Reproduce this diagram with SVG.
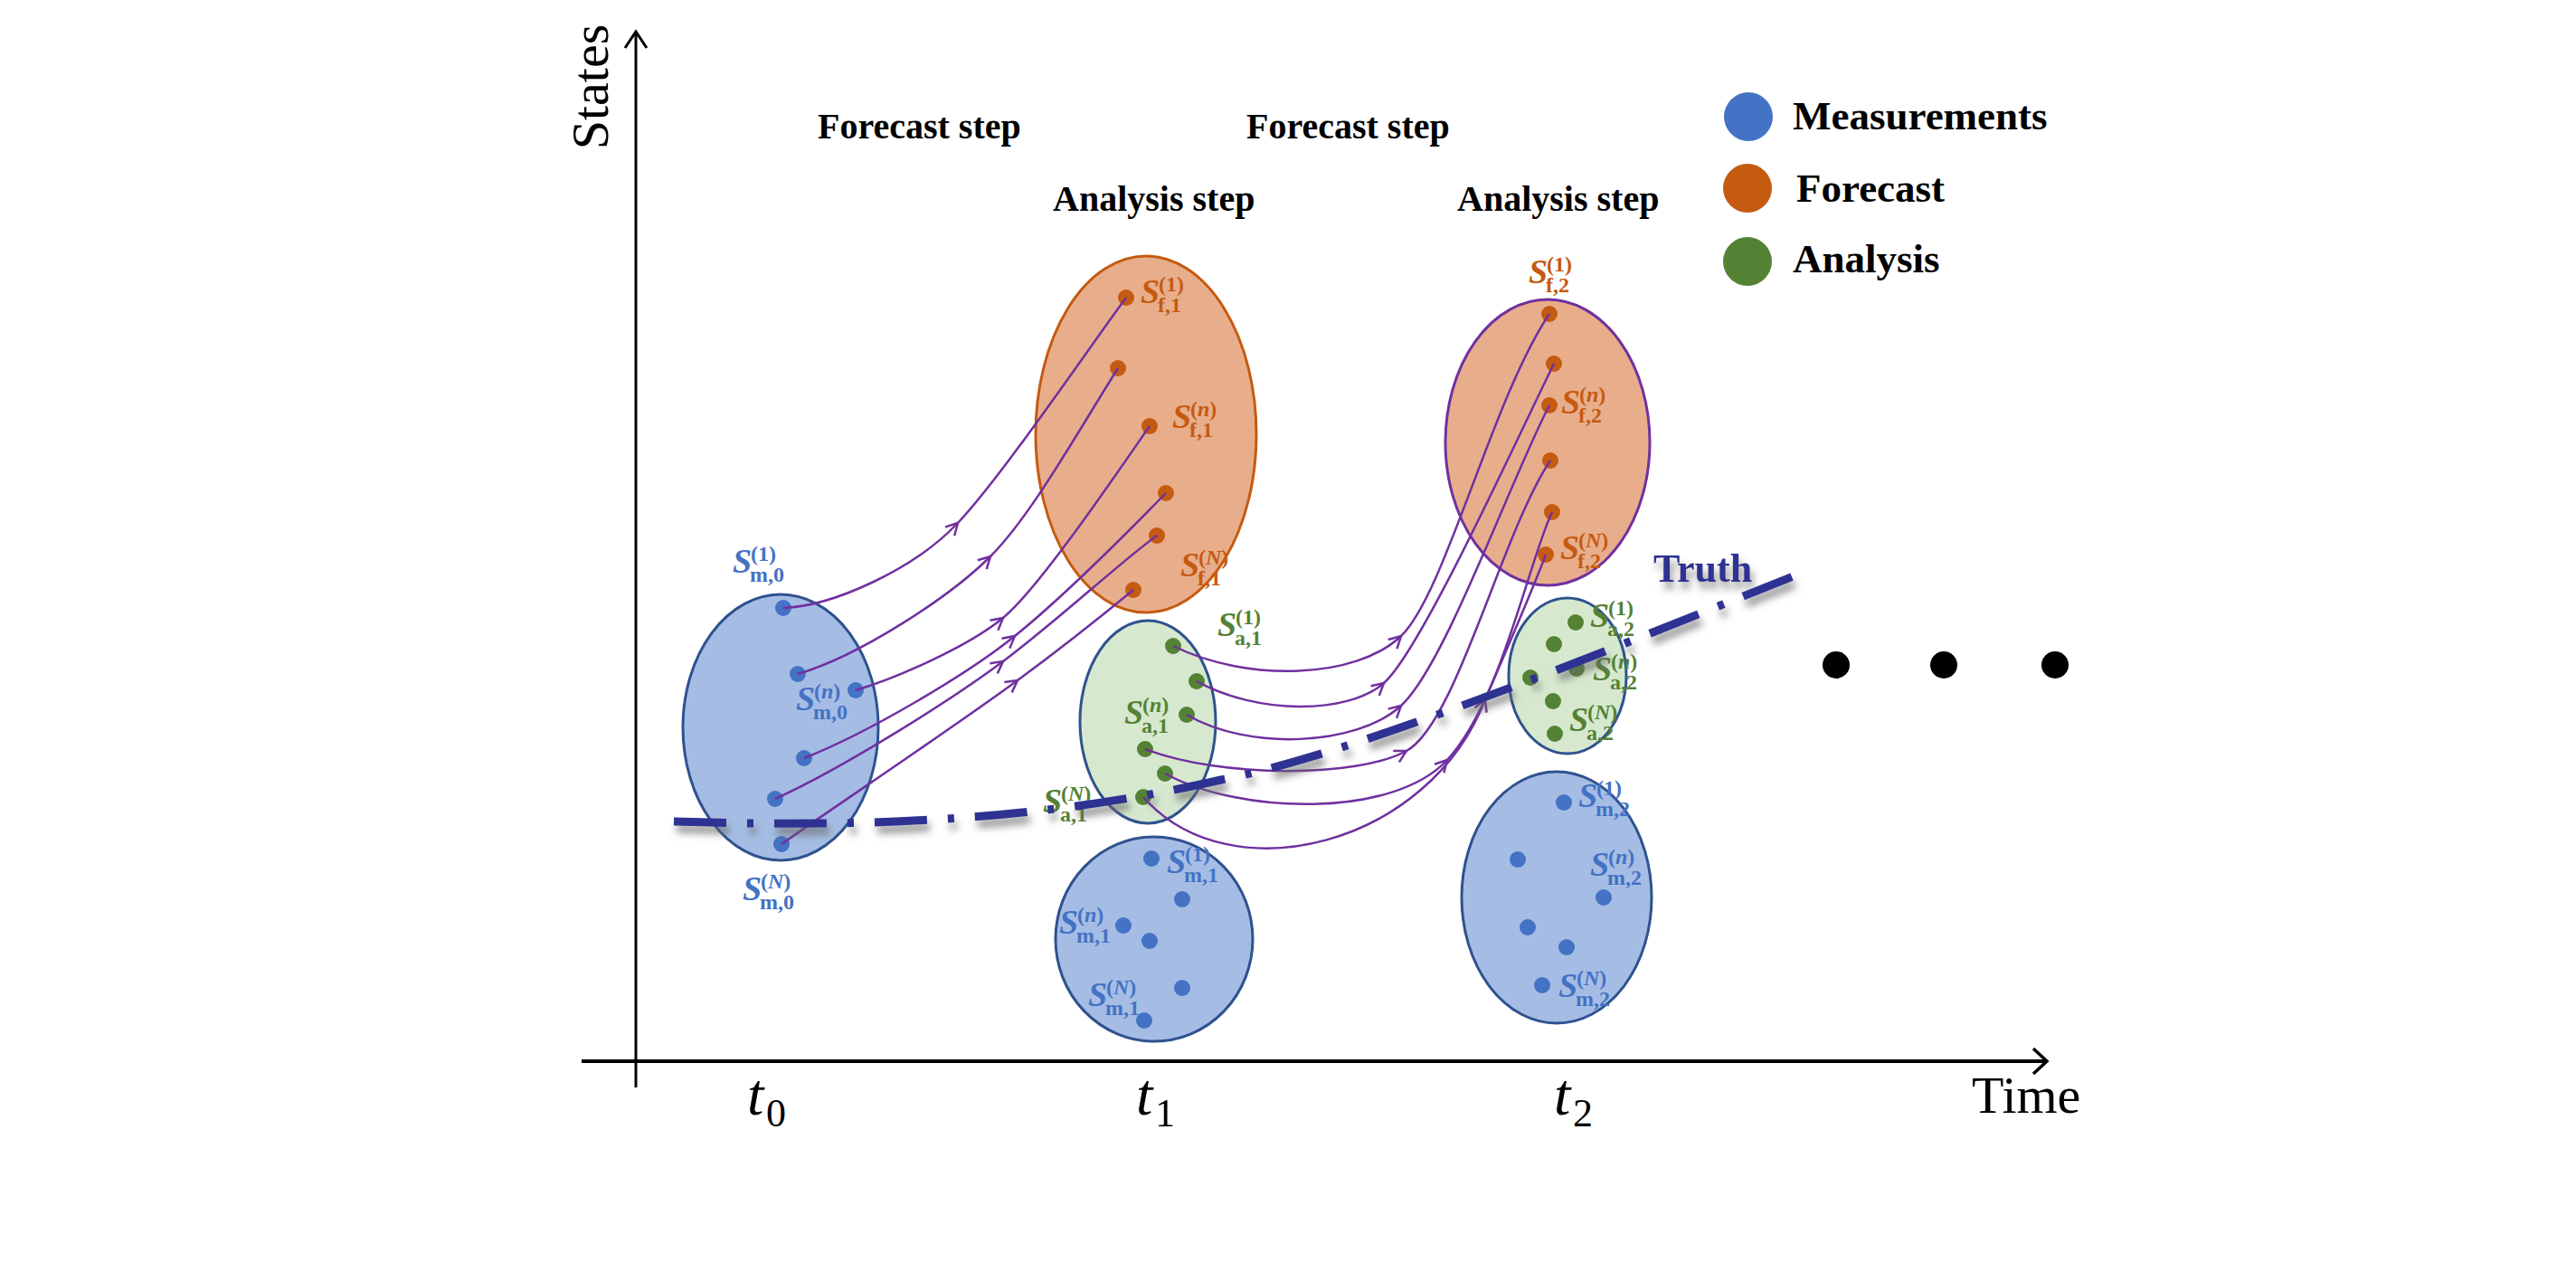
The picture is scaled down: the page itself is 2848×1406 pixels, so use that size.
<svg xmlns="http://www.w3.org/2000/svg" width="2848" height="1406" viewBox="0 0 2848 1406">
<defs>
<style>
.ax{stroke:#000;fill:none}
.title{font-family:"Liberation Serif",serif;font-weight:bold;font-size:40px;fill:#000}
.leg{font-family:"Liberation Serif",serif;font-weight:bold;font-size:45px;fill:#000}
.axl{font-family:"Liberation Serif",serif;font-size:58px;fill:#000}
.tl{font-family:"Liberation Serif",serif;font-style:italic;font-size:66px;fill:#000}
.ts{font-family:"Liberation Serif",serif;font-size:44px;fill:#000}
.em{fill:#a5bde4;stroke:#2f528f;stroke-width:3}
.ef{fill:#e8ae8b;stroke:#c55a11;stroke-width:3}
.ef2{fill:#e8ae8b;stroke:#7030a0;stroke-width:3}
.ea{fill:#d6e9cf;stroke:#2f528f;stroke-width:3}
.dm{fill:#4472c4}
.df{fill:#c55a11}
.da{fill:#548235}
.S{font-family:"Liberation Serif",serif;font-weight:bold;font-style:italic;font-size:38px}
.sp{font-family:"Liberation Serif",serif;font-weight:bold;font-size:24px}
.lm{fill:#4472c4}
.lf{fill:#c55a11}
.la{fill:#548235}
.cn{fill:none;stroke:#7030a0;stroke-width:2.5}
.truth{fill:none;stroke:#2e3192;stroke-width:9;stroke-dasharray:58 23 7 23}
</style>
<marker id="chev" markerUnits="userSpaceOnUse" markerWidth="20" markerHeight="20" refX="14" refY="8" orient="auto" viewBox="0 0 20 20" overflow="visible">
<path d="M1,1 L14,8 L1,15" fill="none" stroke="#7030a0" stroke-width="2.5"/>
</marker>
<filter id="sh" x="-10%" y="-60%" width="120%" height="220%">
<feDropShadow dx="3" dy="8" stdDeviation="4" flood-color="#666" flood-opacity="0.7"/>
</filter>
</defs>
<rect width="2848" height="1406" fill="#fff"/>

<g id="axes">
<line class="ax" x1="703" y1="1202" x2="703" y2="35" stroke-width="3"/>
<polyline class="ax" points="691,53 703,35 715,53" stroke-width="3"/>
<line class="ax" x1="643" y1="1173" x2="2262" y2="1173" stroke-width="4"/>
<polyline class="ax" points="2248,1159 2263,1173 2248,1187" stroke-width="3.5"/>
<text class="axl" transform="translate(672,96) rotate(-90)" text-anchor="middle">States</text>
<text class="axl" x="2180" y="1230">Time</text>
<text class="tl" x="826" y="1232">t</text><text class="ts" x="847" y="1245">0</text>
<text class="tl" x="1256" y="1232">t</text><text class="ts" x="1277" y="1245">1</text>
<text class="tl" x="1718" y="1232">t</text><text class="ts" x="1739" y="1245">2</text>
</g>

<g id="titles">
<text class="title" x="904" y="153">Forecast step</text>
<text class="title" x="1378" y="153">Forecast step</text>
<text class="title" x="1164" y="233">Analysis step</text>
<text class="title" x="1611" y="233">Analysis step</text>
</g>

<g id="legend">
<circle cx="1933" cy="129" r="27" fill="#4472c4"/>
<text class="leg" x="1982" y="143">Measurements</text>
<circle cx="1932" cy="208" r="27" fill="#c55a11"/>
<text class="leg" x="1986" y="223">Forecast</text>
<circle cx="1932" cy="289" r="27" fill="#548235"/>
<text class="leg" x="1982" y="301">Analysis</text>
</g>

<g id="node-m0">
<ellipse class="em" cx="863" cy="804" rx="108" ry="147"/>
<g class="dm"><circle cx="866" cy="672" r="9"/><circle cx="882" cy="745" r="9"/><circle cx="946" cy="763" r="9"/><circle cx="889" cy="838" r="9"/><circle cx="857" cy="883" r="9"/><circle cx="864" cy="933" r="9"/></g>
<g class="lm" transform="translate(810,633)"><text class="S">S</text><text class="sp" x="20" y="-13">(1)</text><text class="sp" x="19" y="10">m,0</text></g>
<g class="lm" transform="translate(880,785)"><text class="S">S</text><text class="sp" x="20" y="-13">(<tspan font-style="italic">n</tspan>)</text><text class="sp" x="19" y="10">m,0</text></g>
<g class="lm" transform="translate(821,995)"><text class="S">S</text><text class="sp" x="20" y="-13">(<tspan font-style="italic">N</tspan>)</text><text class="sp" x="19" y="10">m,0</text></g>
</g>

<g id="node-f1">
<ellipse class="ef" cx="1267" cy="480" rx="122" ry="197"/>
<g class="df"><circle cx="1245" cy="329" r="9"/><circle cx="1236" cy="407" r="9"/><circle cx="1271" cy="471" r="9"/><circle cx="1289" cy="545" r="9"/><circle cx="1279" cy="592" r="9"/><circle cx="1253" cy="652" r="9"/></g>
<g class="lf" transform="translate(1261,335)"><text class="S">S</text><text class="sp" x="20" y="-13">(1)</text><text class="sp" x="19" y="10">f,1</text></g>
<g class="lf" transform="translate(1296,473)"><text class="S">S</text><text class="sp" x="20" y="-13">(<tspan font-style="italic">n</tspan>)</text><text class="sp" x="19" y="10">f,1</text></g>
<g class="lf" transform="translate(1305,637)"><text class="S">S</text><text class="sp" x="20" y="-13">(<tspan font-style="italic">N</tspan>)</text><text class="sp" x="19" y="10">f,1</text></g>
</g>

<g id="node-a1">
<ellipse class="ea" cx="1269" cy="798" rx="75" ry="112"/>
<g class="da"><circle cx="1297" cy="714" r="9"/><circle cx="1323" cy="753" r="9"/><circle cx="1312" cy="790" r="9"/><circle cx="1266" cy="828" r="9"/><circle cx="1288" cy="855" r="9"/><circle cx="1264" cy="881" r="9"/></g>
<g class="la" transform="translate(1346,703)"><text class="S">S</text><text class="sp" x="20" y="-13">(1)</text><text class="sp" x="19" y="10">a,1</text></g>
<g class="la" transform="translate(1243,800)"><text class="S">S</text><text class="sp" x="20" y="-13">(<tspan font-style="italic">n</tspan>)</text><text class="sp" x="19" y="10">a,1</text></g>
<g class="la" transform="translate(1153,898)"><text class="S">S</text><text class="sp" x="20" y="-13">(<tspan font-style="italic">N</tspan>)</text><text class="sp" x="19" y="10">a,1</text></g>
</g>

<g id="node-m1">
<ellipse class="em" cx="1276" cy="1038" rx="109" ry="113"/>
<g class="dm"><circle cx="1273" cy="949" r="9"/><circle cx="1307" cy="994" r="9"/><circle cx="1242" cy="1023" r="9"/><circle cx="1271" cy="1040" r="9"/><circle cx="1307" cy="1092" r="9"/><circle cx="1265" cy="1128" r="9"/></g>
<g class="lm" transform="translate(1290,965)"><text class="S">S</text><text class="sp" x="20" y="-13">(1)</text><text class="sp" x="19" y="10">m,1</text></g>
<g class="lm" transform="translate(1171,1032)"><text class="S">S</text><text class="sp" x="20" y="-13">(<tspan font-style="italic">n</tspan>)</text><text class="sp" x="19" y="10">m,1</text></g>
<g class="lm" transform="translate(1203,1112)"><text class="S">S</text><text class="sp" x="20" y="-13">(<tspan font-style="italic">N</tspan>)</text><text class="sp" x="19" y="10">m,1</text></g>
</g>

<g id="node-f2">
<ellipse class="ef2" cx="1711" cy="489" rx="113" ry="158"/>
<g class="df"><circle cx="1713" cy="347" r="9"/><circle cx="1718" cy="402" r="9"/><circle cx="1713" cy="448" r="9"/><circle cx="1714" cy="509" r="9"/><circle cx="1716" cy="566" r="9"/><circle cx="1709" cy="613" r="9"/></g>
<g class="lf" transform="translate(1690,313)"><text class="S">S</text><text class="sp" x="20" y="-13">(1)</text><text class="sp" x="19" y="10">f,2</text></g>
<g class="lf" transform="translate(1726,457)"><text class="S">S</text><text class="sp" x="20" y="-13">(<tspan font-style="italic">n</tspan>)</text><text class="sp" x="19" y="10">f,2</text></g>
<g class="lf" transform="translate(1725,618)"><text class="S">S</text><text class="sp" x="20" y="-13">(<tspan font-style="italic">N</tspan>)</text><text class="sp" x="19" y="10">f,2</text></g>
</g>

<g id="node-a2">
<ellipse class="ea" cx="1733" cy="747" rx="65" ry="86"/>
<g class="da"><circle cx="1742" cy="688" r="9"/><circle cx="1718" cy="712" r="9"/><circle cx="1692" cy="749" r="9"/><circle cx="1743" cy="739" r="9"/><circle cx="1717" cy="775" r="9"/><circle cx="1719" cy="811" r="9"/></g>
<g class="la" transform="translate(1758,693)"><text class="S">S</text><text class="sp" x="20" y="-13">(1)</text><text class="sp" x="19" y="10">a,2</text></g>
<g class="la" transform="translate(1761,752)"><text class="S">S</text><text class="sp" x="20" y="-13">(<tspan font-style="italic">n</tspan>)</text><text class="sp" x="19" y="10">a,2</text></g>
<g class="la" transform="translate(1735,808)"><text class="S">S</text><text class="sp" x="20" y="-13">(<tspan font-style="italic">N</tspan>)</text><text class="sp" x="19" y="10">a,2</text></g>
</g>

<g id="node-m2">
<ellipse class="em" cx="1721" cy="992" rx="105" ry="139"/>
<g class="dm"><circle cx="1729" cy="887" r="9"/><circle cx="1678" cy="950" r="9"/><circle cx="1773" cy="992" r="9"/><circle cx="1689" cy="1025" r="9"/><circle cx="1732" cy="1047" r="9"/><circle cx="1705" cy="1089" r="9"/></g>
<g class="lm" transform="translate(1745,892)"><text class="S">S</text><text class="sp" x="20" y="-13">(1)</text><text class="sp" x="19" y="10">m,2</text></g>
<g class="lm" transform="translate(1758,968)"><text class="S">S</text><text class="sp" x="20" y="-13">(<tspan font-style="italic">n</tspan>)</text><text class="sp" x="19" y="10">m,2</text></g>
<g class="lm" transform="translate(1723,1102)"><text class="S">S</text><text class="sp" x="20" y="-13">(<tspan font-style="italic">N</tspan>)</text><text class="sp" x="19" y="10">m,2</text></g>
</g>

<g id="connectors" class="cn" marker-mid="url(#chev)">
<path d="M866,672 C920,670 1010,630 1059,578 S1200,390 1245,329"/>
<path d="M882,745 C950,725 1050,660 1095,615 S1190,480 1236,407"/>
<path d="M946,763 C990,750 1070,715 1109,683 S1230,530 1271,471"/>
<path d="M889,838 C960,810 1070,745 1122,703 S1250,585 1289,545"/>
<path d="M857,883 C930,850 1050,775 1109,731 S1240,620 1279,592"/>
<path d="M864,933 C940,880 1060,800 1125,752 S1225,675 1253,652"/>
<path d="M1297,714 C1380,755 1500,750 1549,703 S1650,440 1713,347"/>
<path d="M1323,753 C1390,790 1490,790 1530,755 S1670,500 1718,402"/>
<path d="M1312,790 C1380,830 1500,825 1549,780 S1670,530 1713,448"/>
<path d="M1266,828 C1350,860 1500,860 1555,830 S1660,590 1714,509"/>
<path d="M1288,855 C1370,900 1540,905 1600,840 S1690,620 1716,566"/>
<path d="M1264,881 C1360,990 1580,935 1642,773 C1665,720 1695,650 1709,613"/>
</g>

<g id="truth" filter="url(#sh)">
<path class="truth" d="M745,908 C950,915 1150,908 1350,862 C1500,832 1750,730 2000,630"/>
<text x="1828" y="643" font-family="'Liberation Serif',serif" font-weight="bold" font-size="44" fill="#2e3192">Truth</text>
</g>

<g id="ellipsis" fill="#000">
<circle cx="2030" cy="735" r="15"/>
<circle cx="2149" cy="735" r="15"/>
<circle cx="2272" cy="735" r="15"/>
</g>
</svg>
